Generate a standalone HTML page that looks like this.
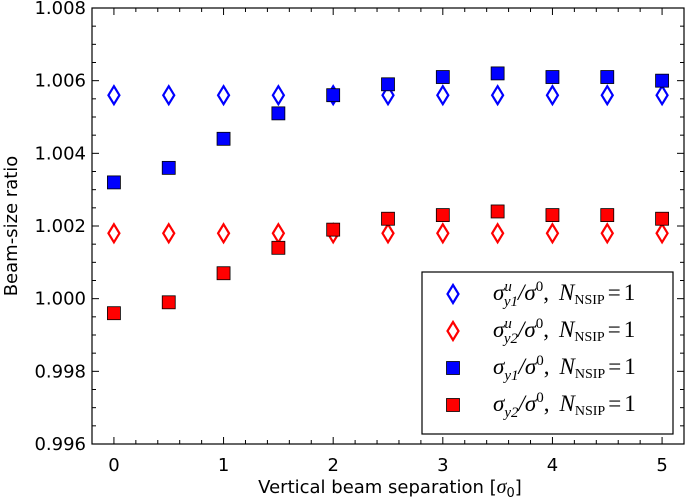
<!DOCTYPE html>
<html><head><meta charset="utf-8"><style>
body{margin:0;background:#fff}
svg{font-family:"DejaVu Sans","Liberation Sans",sans-serif}
.m{font-family:"Liberation Serif","DejaVu Serif",serif;font-style:italic}
</style></head><body>
<svg id="c" width="685" height="498"></svg>
<script>
const xs=[0,0.5,1,1.5,2,2.5,3,3.5,4,4.5,5];
const y1u=[1.0056,1.0056,1.0056,1.0056,1.0056,1.0056,1.0056,1.0056,1.0056,1.0056,1.0056];
const y2u=[1.0018,1.0018,1.0018,1.0018,1.0018,1.0018,1.0018,1.0018,1.0018,1.0018,1.0018];
const y1=[1.0032,1.0036,1.0044,1.0051,1.0056,1.0059,1.0061,1.0062,1.0061,1.0061,1.0060];
const y2=[0.9996,0.9999,1.0007,1.0014,1.0019,1.0022,1.0023,1.0024,1.0023,1.0023,1.0022];
const xticks=[0,1,2,3,4,5];
const yticks=[0.996,0.998,1.000,1.002,1.004,1.006,1.008];
const L=92,R=684,T=8,B=444,x0=-0.2,x1=5.2,ymin=0.996,ymax=1.008;
const X=v=>L+(v-x0)/(x1-x0)*(R-L);
const Y=v=>B-(v-ymin)/(ymax-ymin)*(B-T);
const svg=document.getElementById('c');const NS='http://www.w3.org/2000/svg';
function mk(t,a,p){const e=document.createElementNS(NS,t);for(const k in a)e.setAttribute(k,a[k]);(p||svg).appendChild(e);return e;}
for(let v=0;v<=5.0001;v+=0.2){const x=X(v);const maj=Math.abs(v-Math.round(v))<1e-6;const l=maj?7:4;
 let e=mk('line',{x1:x,x2:x,y1:B,y2:B-l,stroke:'#000'});
 
 
 mk('line',{x1:x,x2:x,y1:T,y2:T+l,stroke:'#000'});}
for(let i=0;i<=24;i++){const v=ymin+i*0.0005;const y=Y(v);const l=i%4==0?7:4;
 let e=mk('line',{x1:L,x2:L+l,y1:y,y2:y,stroke:'#000'});
 
 
 mk('line',{x1:R,x2:R-l,y1:y,y2:y,stroke:'#000'});}
xticks.forEach(v=>{const t=mk('text',{x:X(v),y:471,'text-anchor':'middle','font-size':18});t.textContent=v;
 
 });
yticks.forEach(v=>{const t=mk('text',{x:L-6,y:Y(v)+6,'text-anchor':'end','font-size':18});t.textContent=v.toFixed(3);
 
 });
let fr=mk('rect',{x:L,y:T,width:R-L,height:B-T,fill:'none',stroke:'#000','stroke-width':1.2});


function diamond(x,y,c,g){return mk('polygon',{points:`${x},${y-9} ${x+5.5},${y} ${x},${y+9} ${x-5.5},${y}`,fill:'none',stroke:c,'stroke-width':2.2},g);}
function square(x,y,c,g){return mk('rect',{x:x-6.5,y:y-6.5,width:13,height:13,fill:c,stroke:'#000','stroke-width':0.8},g);}
const series=[[y1u,'#0000ff',diamond,'sigma-y1u'],[y2u,'#ff0000',diamond,'sigma-y2u'],[y1,'#0000ff',square,'sigma-y1'],[y2,'#ff0000',square,'sigma-y2']];
series.forEach(s=>{const g=mk('g',{});
 
 
 s[0].forEach((v,i)=>{const e=s[2](X(xs[i]),Y(v),s[1],g);
 
 });});
</script>
<svg style="position:absolute;left:0;top:0" width="685" height="498">
<g>
<rect x="422" y="272" width="251" height="162" fill="#fff" stroke="#000" stroke-width="1.2"/>
<polygon points="453,285 458.5,294 453,303 447.5,294" fill="none" stroke="#0000ff" stroke-width="2.2"/>
<polygon points="453,322 458.5,331 453,340 447.5,331" fill="none" stroke="#ff0000" stroke-width="2.2"/>
<rect x="446.5" y="361.5" width="13" height="13" fill="#0000ff" stroke="#000" stroke-width="0.8"/>
<rect x="446.5" y="398.5" width="13" height="13" fill="#ff0000" stroke="#000" stroke-width="0.8"/>
<g class="m" font-size="23">
<text x="493" y="300">σ<tspan font-size="15" dy="-9">u</tspan><tspan font-size="15" dx="-8" dy="15">y1</tspan><tspan dy="-6">/σ</tspan><tspan font-size="15" dy="-9" font-style="normal">0</tspan><tspan dy="9" font-style="normal">,</tspan><tspan dx="10">N</tspan><tspan font-size="14" dy="4" font-style="normal">NSIP</tspan><tspan dy="-4" dx="3" font-style="normal">=</tspan><tspan dx="3" font-style="normal">1</tspan></text>
<text x="493" y="337">σ<tspan font-size="15" dy="-9">u</tspan><tspan font-size="15" dx="-8" dy="15">y2</tspan><tspan dy="-6">/σ</tspan><tspan font-size="15" dy="-9" font-style="normal">0</tspan><tspan dy="9" font-style="normal">,</tspan><tspan dx="10">N</tspan><tspan font-size="14" dy="4" font-style="normal">NSIP</tspan><tspan dy="-4" dx="3" font-style="normal">=</tspan><tspan dx="3" font-style="normal">1</tspan></text>
<text x="493" y="374">σ<tspan font-size="15" dy="6">y1</tspan><tspan dy="-6">/σ</tspan><tspan font-size="15" dy="-9" font-style="normal">0</tspan><tspan dy="9" font-style="normal">,</tspan><tspan dx="10">N</tspan><tspan font-size="14" dy="4" font-style="normal">NSIP</tspan><tspan dy="-4" dx="3" font-style="normal">=</tspan><tspan dx="3" font-style="normal">1</tspan></text>
<text x="493" y="411">σ<tspan font-size="15" dy="6">y2</tspan><tspan dy="-6">/σ</tspan><tspan font-size="15" dy="-9" font-style="normal">0</tspan><tspan dy="9" font-style="normal">,</tspan><tspan dx="10">N</tspan><tspan font-size="14" dy="4" font-style="normal">NSIP</tspan><tspan dy="-4" dx="3" font-style="normal">=</tspan><tspan dx="3" font-style="normal">1</tspan></text>
</g></g>
<text x="390" y="493" text-anchor="middle" font-size="18" font-family="DejaVu Sans,sans-serif">Vertical beam separation [<tspan class="m" font-size="20">σ</tspan><tspan font-size="13" dy="4">0</tspan><tspan dy="-4">]</tspan></text>
<text transform="translate(17,226) rotate(-90)" text-anchor="middle" font-size="18" font-family="DejaVu Sans,sans-serif">Beam-size ratio</text>
</svg>
</body></html>
